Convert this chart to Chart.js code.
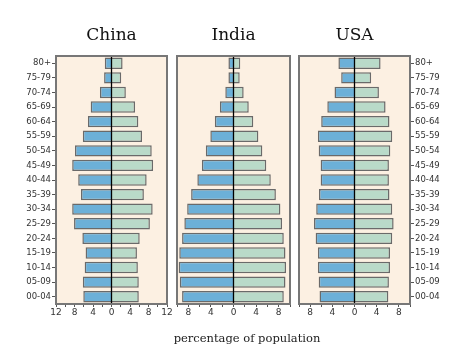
<!DOCTYPE html>
<html><head><meta charset="utf-8">
<script src="https://cdn.jsdelivr.net/npm/chart.js@4"></script>
<style>
html,body{margin:0;padding:0;background:#fff;}
#wrap{position:relative;width:474px;height:361px;overflow:hidden;background:#fff;}
canvas{position:absolute;left:0;top:0;}
#xlabel{position:absolute;left:0;width:494px;top:331px;line-height:14px;text-align:center;font-family:"DejaVu Serif";font-size:11.5px;color:#222;}
</style></head>
<body><div id="wrap">
<canvas id="c1" width="474" height="361"></canvas>
<canvas id="c2" width="474" height="361"></canvas>
<canvas id="c3" width="474" height="361"></canvas>
<div id="xlabel">percentage of population</div>
</div>
<script>
// Age groups, youngest first (drawn bottom to top)
const ageGroups = ['00-04','05-09','10-14','15-19','20-24','25-29','30-34','35-39','40-44','45-49','50-54','55-59','60-64','65-69','70-74','75-79','80+'];

const chinaMale   = [6.1, 6.2, 5.8, 5.6, 6.3, 8.1, 8.5, 6.6, 7.2, 8.5, 7.9, 6.2, 5.1, 4.5, 2.5, 1.6, 1.45];
const chinaFemale = [5.9, 5.9, 5.7, 5.5, 6.1, 8.3, 8.9, 7.0, 7.6, 9.0, 8.7, 6.6, 5.8, 5.1, 3.1, 2.1, 2.4];

const indiaMale   = [9.1, 9.5, 9.7, 9.6, 9.1, 8.7, 8.2, 7.5, 6.4, 5.6, 4.9, 4.1, 3.3, 2.4, 1.45, 0.9, 0.9];
const indiaFemale = [8.9, 9.2, 9.3, 9.2, 8.9, 8.6, 8.3, 7.5, 6.6, 5.8, 5.1, 4.4, 3.5, 2.7, 1.8, 1.1, 1.2];

const usaMale     = [6.3, 6.45, 6.6, 6.6, 7.0, 7.3, 6.9, 6.4, 6.1, 6.1, 6.45, 6.6, 6.0, 4.9, 3.6, 2.4, 2.9];
const usaFemale   = [6.1, 6.2, 6.4, 6.4, 6.8, 7.05, 6.8, 6.3, 6.2, 6.2, 6.45, 6.8, 6.3, 5.6, 4.4, 3.0, 4.7];

// x tick positions (labels shown at multiples of 4, as absolute values)
const chinaTicks = [-12,-10,-8,-6,-4,-2,0,2,4,6,8,10,12];
const otherTicks = [-10,-8,-6,-4,-2,0,2,4,6,8,10];

const maleColor = '#6cb0d8';
const femaleColor = '#b9dac9';
const edgeColor = '#6a6a6a';
const panelBg = '#fcf0e2';
const frameColor = '#777777';

const panelPlugin = {
  id: 'panel',
  beforeDraw(chart) {
    const {ctx, chartArea: a} = chart;
    ctx.save();
    ctx.fillStyle = panelBg;
    ctx.fillRect(a.left, a.top, a.width, a.height);
    ctx.restore();
  },
  afterDatasetsDraw(chart) {
    const {ctx, chartArea: a} = chart;
    const x0 = chart.scales.x.getPixelForValue(0);
    ctx.save();
    ctx.strokeStyle = '#000';
    ctx.lineWidth = 1.3;
    ctx.beginPath();
    ctx.moveTo(x0, a.top);
    ctx.lineTo(x0, a.bottom);
    ctx.stroke();
    ctx.strokeStyle = frameColor;
    ctx.lineWidth = 2;
    ctx.strokeRect(a.left, a.top, a.width, a.height);
    ctx.restore();
  }
};

function makeChart(id, country, male, female, o) {
  return new Chart(document.getElementById(id), {
    type: 'bar',
    data: {
      labels: ageGroups,
      datasets: [
        {label: 'Male', data: male.map(v => -v), backgroundColor: maleColor, borderColor: edgeColor, borderWidth: 1.5, barPercentage: 0.78, categoryPercentage: 1},
        {label: 'Female', data: female, backgroundColor: femaleColor, borderColor: edgeColor, borderWidth: 1.5, barPercentage: 0.78, categoryPercentage: 1}
      ]
    },
    options: {
      indexAxis: 'y',
      responsive: false,
      animation: false,
      devicePixelRatio: 1,
      layout: {padding: o.padding},
      plugins: {
        legend: {display: false},
        tooltip: {enabled: false},
        title: {display: true, text: country, fullSize: false, color: '#111',
          font: {family: 'DejaVu Serif', size: 17, weight: 'normal'},
          padding: {top: 0, bottom: 10.6}}
      },
      scales: {
        x: {
          type: 'linear', stacked: true, min: -o.xmax, max: o.xmax,
          afterBuildTicks: s => { s.ticks = o.ticks.map(v => ({value: v})); },
          afterFit: s => { s.height = 57; s.paddingLeft = 0; s.paddingRight = 0; },
          grid: {drawOnChartArea: false, tickLength: 3, tickColor: '#555'},
          border: {display: false},
          ticks: {autoSkip: false, maxRotation: 0, padding: 0, color: '#333',
            font: {family: 'DejaVu Sans', size: 9},
            callback: v => (v % 4 === 0 ? String(Math.abs(v)) : '')}
        },
        y: {
          stacked: true, reverse: true, position: o.yPos, display: o.yDisplay,
          afterFit: s => { s.width = o.yWidth; s.paddingTop = 0; s.paddingBottom = 0; },
          grid: {drawOnChartArea: false, offset: false, tickLength: 4, tickColor: '#555'},
          border: {display: false},
          ticks: {padding: 1, color: '#333', font: {family: 'DejaVu Sans', size: 8.5}}
        }
      }
    },
    plugins: [panelPlugin]
  });
}

makeChart('c1', 'China', chinaMale, chinaFemale, {
  xmax: 12, ticks: chinaTicks, yPos: 'left', yDisplay: true, yWidth: 50,
  padding: {left: 6, right: 307, top: 25, bottom: 0}
});
makeChart('c2', 'India', indiaMale, indiaFemale, {
  xmax: 10, ticks: otherTicks, yPos: 'left', yDisplay: false, yWidth: 0,
  padding: {left: 177, right: 184, top: 25, bottom: 0}
});
makeChart('c3', 'USA', usaMale, usaFemale, {
  xmax: 10, ticks: otherTicks, yPos: 'right', yDisplay: true, yWidth: 60,
  padding: {left: 299, right: 4, top: 25, bottom: 0}
});
</script>
</body></html>
